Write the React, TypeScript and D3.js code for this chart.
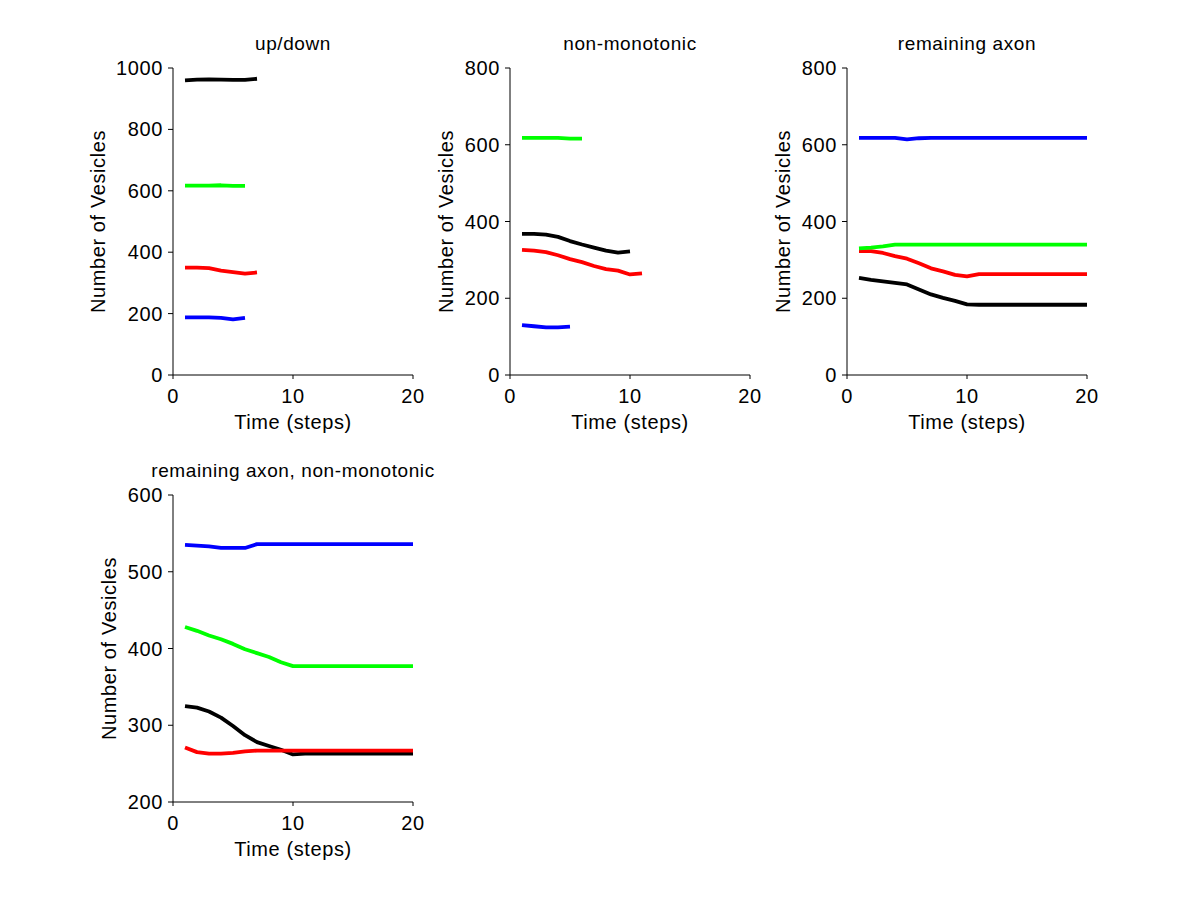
import React from "react";
import * as d3 from "d3";

// ---- data ----
const titles = ["up/down", "non-monotonic", "remaining axon", "remaining axon, non-monotonic"];
const xTicks = [0, 10, 20];
const yTicks1 = [0, 200, 400, 600, 800, 1000];
const yTicks2 = [0, 200, 400, 600, 800];
const yTicks3 = [0, 200, 400, 600, 800];
const yTicks4 = [200, 300, 400, 500, 600];
const xLabel = "Time (steps)";
const yLabel = "Number of Vesicles";

// plot 1: up/down
const p1Black = [960, 962, 963, 962, 961, 961, 965];
const p1Green = [617, 617, 617, 618, 616, 616];
const p1Red = [350, 350, 348, 340, 335, 330, 334];
const p1Blue = [188, 188, 188, 186, 181, 186];

// plot 2: non-monotonic
const p2Green = [618, 618, 618, 618, 616, 616];
const p2Black = [368, 368, 366, 360, 349, 340, 332, 324, 319, 322];
const p2Red = [326, 324, 320, 312, 302, 294, 284, 276, 272, 262, 265];
const p2Blue = [130, 127, 124, 124, 126];

// plot 3: remaining axon
const p3Blue = [618, 618, 618, 618, 614, 617, 618, 618, 618, 618, 618, 618, 618, 618, 618, 618, 618, 618, 618, 618];
const p3Green = [330, 332, 335, 340, 340, 340, 340, 340, 340, 340, 340, 340, 340, 340, 340, 340, 340, 340, 340, 340];
const p3Red = [323, 323, 318, 310, 303, 291, 278, 270, 261, 257, 263, 263, 263, 263, 263, 263, 263, 263, 263, 263];
const p3Black = [253, 248, 244, 240, 236, 223, 210, 201, 193, 184, 183, 183, 183, 183, 183, 183, 183, 183, 183, 183];

// plot 4: remaining axon, non-monotonic
const p4Blue = [535, 534, 533, 531, 531, 531, 536, 536, 536, 536, 536, 536, 536, 536, 536, 536, 536, 536, 536, 536];
const p4Green = [428, 423, 417, 412, 406, 399, 394, 389, 382, 377, 377, 377, 377, 377, 377, 377, 377, 377, 377, 377];
const p4Black = [325, 323, 318, 310, 299, 287, 278, 273, 268, 262, 263, 263, 263, 263, 263, 263, 263, 263, 263, 263];
const p4Red = [271, 265, 263, 263, 264, 266, 267, 267, 267, 267, 267, 267, 267, 267, 267, 267, 267, 267, 267, 267];

const COLORS = { black: "#000000", red: "#ff0000", green: "#00ff00", blue: "#0000ff" };

type Series = { color: string; values: number[] };
type PanelDef = {
  title: string;
  yTicks: number[];
  series: Series[];
  left: number;
  top: number;
};

const W = 240;
const H = 307;

const panels: PanelDef[] = [
  {
    title: titles[0], yTicks: yTicks1, left: 173, top: 68,
    series: [
      { color: COLORS.black, values: p1Black },
      { color: COLORS.red, values: p1Red },
      { color: COLORS.green, values: p1Green },
      { color: COLORS.blue, values: p1Blue },
    ],
  },
  {
    title: titles[1], yTicks: yTicks2, left: 510, top: 68,
    series: [
      { color: COLORS.black, values: p2Black },
      { color: COLORS.red, values: p2Red },
      { color: COLORS.green, values: p2Green },
      { color: COLORS.blue, values: p2Blue },
    ],
  },
  {
    title: titles[2], yTicks: yTicks3, left: 847, top: 68,
    series: [
      { color: COLORS.black, values: p3Black },
      { color: COLORS.red, values: p3Red },
      { color: COLORS.green, values: p3Green },
      { color: COLORS.blue, values: p3Blue },
    ],
  },
  {
    title: titles[3], yTicks: yTicks4, left: 173, top: 495,
    series: [
      { color: COLORS.black, values: p4Black },
      { color: COLORS.red, values: p4Red },
      { color: COLORS.green, values: p4Green },
      { color: COLORS.blue, values: p4Blue },
    ],
  },
];

const FONT = "'Liberation Sans', Arial, Helvetica, sans-serif";
const FS = 20;
const LS = 0.6;

function Panel({ p }: { p: PanelDef }) {
  const x = d3.scaleLinear().domain([0, 20]).range([p.left, p.left + W]);
  const yDom = d3.extent(p.yTicks) as [number, number];
  const y = d3.scaleLinear().domain(yDom).range([p.top + H, p.top]);
  const bottom = p.top + H;
  const line = d3
    .line<number>()
    .x((_, i) => x(i + 1))
    .y((v) => y(v));
  const maxLen = d3.max(p.yTicks, (t) => String(t).length) || 3;
  const yLabelX = p.left - (24 + 11 * maxLen);
  const cx = p.left + W / 2;
  return (
    <g>
      {p.series.map((s, i) => (
        <path
          key={i}
          d={line(s.values) || ""}
          fill="none"
          stroke={s.color}
          strokeWidth={3.8}
          strokeLinejoin="round"
        />
      ))}
      <line x1={p.left} x2={p.left} y1={p.top} y2={bottom} stroke="#000" strokeWidth={1} />
      <line x1={p.left} x2={p.left + W} y1={bottom} y2={bottom} stroke="#000" strokeWidth={1} />
      {p.yTicks.map((t) => (
        <g key={"y" + t}>
          <line x1={p.left - 5} x2={p.left} y1={y(t)} y2={y(t)} stroke="#000" />
          <text
            x={p.left - 10}
            y={y(t) + 7}
            textAnchor="end"
            fontSize={FS}
            letterSpacing={LS}
            fontFamily={FONT}
          >
            {t}
          </text>
        </g>
      ))}
      {xTicks.map((t) => (
        <g key={"x" + t}>
          <line x1={x(t)} x2={x(t)} y1={bottom} y2={bottom + 4} stroke="#000" />
          <text
            x={x(t)}
            y={bottom + 28}
            textAnchor="middle"
            fontSize={FS}
            letterSpacing={LS}
            fontFamily={FONT}
          >
            {t}
          </text>
        </g>
      ))}
      <text
        x={cx}
        y={bottom + 54}
        textAnchor="middle"
        fontSize={FS}
        letterSpacing={LS}
        fontFamily={FONT}
      >
        {xLabel}
      </text>
      <text
        transform={`translate(${yLabelX},${p.top + H / 2}) rotate(-90)`}
        textAnchor="middle"
        fontSize={FS}
        letterSpacing={LS}
        fontFamily={FONT}
      >
        {yLabel}
      </text>
      <text
        x={cx}
        y={p.top - 18.5}
        textAnchor="middle"
        fontSize={19}
        letterSpacing={0.6}
        fontFamily={FONT}
      >
        {p.title}
      </text>
    </g>
  );
}

export default function App() {
  return (
    <svg
      width={1200}
      height={901}
      style={{ position: "absolute", left: 0, top: 0, background: "#fff" }}
    >
      <rect x={0} y={0} width={1200} height={901} fill="#fff" />
      {panels.map((p, i) => (
        <Panel key={i} p={p} />
      ))}
    </svg>
  );
}
